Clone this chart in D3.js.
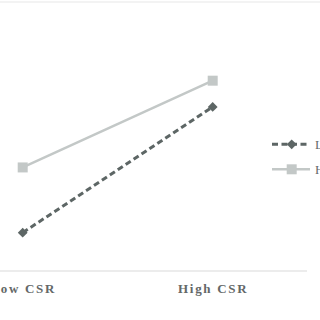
<!DOCTYPE html>
<html><head><meta charset="utf-8">
<script src="https://cdn.jsdelivr.net/npm/d3@7"></script>
<style>body{margin:0;background:#fff}svg{display:block}</style>
</head><body>
<svg id="c" width="320" height="320"></svg>
<script>
const categories = ["Low CSR", "High CSR"];
const seriesNames = ["Low", "High"];
const darkValues = [1.57, 3.44];
const lightValues = [2.54, 3.83];

const svg = d3.select("#c");
const x = d3.scalePoint().domain(categories).range([22.7, 212.7]);
const y = d3.scaleLinear().domain([1, 5]).range([271, 2]);

// faint top gridline
svg.append("line").attr("x1", 0).attr("x2", 320).attr("y1", y(5)).attr("y2", y(5))
  .attr("stroke", "#f3f3f3").attr("stroke-width", 2);
// axis line
svg.append("line").attr("x1", 0).attr("x2", 307).attr("y1", y(1)).attr("y2", y(1))
  .attr("stroke", "#e6e6e6").attr("stroke-width", 1.5);

const xAxis = d3.axisBottom(x).tickSize(0).tickPadding(0);
const gx = svg.append("g").attr("transform", `translate(0,${y(1)})`).call(xAxis);
gx.select(".domain").remove();
gx.selectAll("text").attr("dy", null).attr("y", 22)
  .attr("font-family", "'Liberation Serif', serif").attr("font-weight", "bold")
  .attr("font-size", 13).attr("letter-spacing", 1.7).attr("fill", "#646868");

const line = d3.line().x((d, i) => x(categories[i])).y(d => y(d));
const lightColor = "#c3c8c7", darkColor = "#5d6665";

svg.append("path").datum(lightValues).attr("d", line).attr("fill", "none")
  .attr("stroke", lightColor).attr("stroke-width", 2.5);
svg.append("path").datum(darkValues).attr("d", line).attr("fill", "none")
  .attr("stroke", darkColor).attr("stroke-width", 3).attr("stroke-dasharray", "6,3.5");

const sq = d3.symbol().type(d3.symbolSquare).size(100);
const dm = d3.symbol().type(d3.symbolSquare).size(48);
svg.selectAll(".lm").data(lightValues).join("path")
  .attr("transform", (d, i) => `translate(${x(categories[i])},${y(d)})`)
  .attr("d", sq).attr("fill", lightColor);
svg.selectAll(".dm").data(darkValues).join("path")
  .attr("transform", (d, i) => `translate(${x(categories[i])},${y(d)}) rotate(45)`)
  .attr("d", dm).attr("fill", darkColor);

// legend
const lg = svg.append("g");
const ly = [144.3, 169.3];
lg.append("line").attr("x1", 272).attr("x2", 310).attr("y1", ly[0]).attr("y2", ly[0])
  .attr("stroke", darkColor).attr("stroke-width", 3).attr("stroke-dasharray", "6,3.5");
lg.append("path").attr("transform", `translate(291.7,${ly[0]}) rotate(45)`).attr("d", dm).attr("fill", darkColor);
lg.append("line").attr("x1", 272).attr("x2", 310).attr("y1", ly[1]).attr("y2", ly[1])
  .attr("stroke", lightColor).attr("stroke-width", 2.5);
lg.append("path").attr("transform", `translate(291.7,${ly[1]})`).attr("d", sq).attr("fill", lightColor);
lg.selectAll("text").data(seriesNames).join("text")
  .attr("x", 315).attr("y", (d, i) => ly[i] + 4.5)
  .attr("font-family", "'Liberation Serif', serif").attr("font-size", 13)
  .attr("fill", "#646868").text(d => d);
</script>
</body></html>
